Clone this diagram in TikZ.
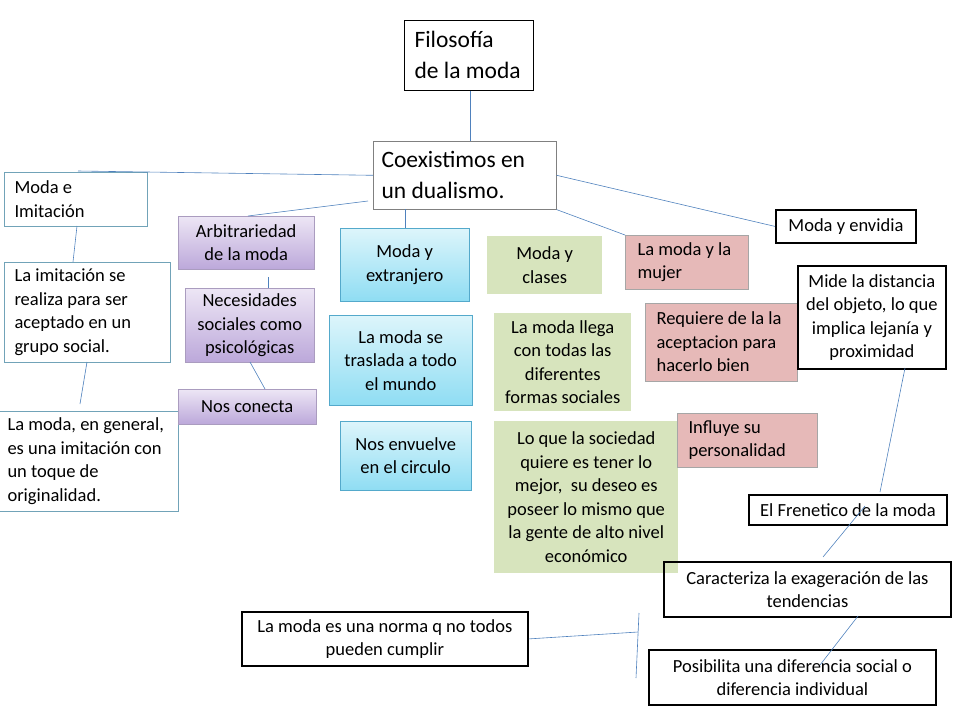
\documentclass[tikz,border=0pt]{standalone}
\usepackage{fontspec}
\setmainfont{Carlito}
\definecolor{lnc}{HTML}{4F81BD}
\definecolor{pnkc}{HTML}{E6B9B8}
\definecolor{grnc}{HTML}{D7E4BD}
\definecolor{purt}{HTML}{EDE6F5}
\definecolor{purb}{HTML}{BCA8DA}
\definecolor{cyat}{HTML}{DDF5FB}
\definecolor{cyab}{HTML}{8FDDF3}
\begin{document}
\begin{tikzpicture}[x=1pt,y=-1pt,
  ln/.style={draw=lnc,line width=0.6pt},
  bx/.style={draw=#1,align=center,inner sep=0pt},
  pur/.style={bx=purb!70!gray,top color=purt,bottom color=purb},
  cya/.style={bx=cyan!60!gray,top color=cyat,bottom color=cyab},
  grn/.style={bx=none,fill=grnc},
  pnk/.style={bx=gray!70,fill=pnkc},
  blk/.style={bx=black,line width=1.8pt},
  wht/.style={bx=cyan!40!gray},
  tx/.style={font=\fontsize{18.5}{23.5}\selectfont}]
\useasboundingbox (0,0) rectangle (960,720);
\newcommand{\bxat}[6]{\node[#1,minimum width=#4-#2,minimum height=#5-#3,anchor=north west] (#6) at (#2,#3) {};}
\bxat{bx=black,line width=0.6pt}{404}{20}{533}{90}{fil}
\node[anchor=west,align=left,font=\fontsize{23.5}{31}\selectfont] at (411,55) {Filosofía\\de la moda};
\bxat{bx=gray,line width=0.6pt}{373}{141}{556}{209}{coe}
\node[anchor=west,align=left,font=\fontsize{23.5}{31}\selectfont] at (378,175) {Coexistimos en\\un dualismo.};
\bxat{wht}{4}{172}{147}{226}{mi}
\node[tx,anchor=west,align=left] at (11,199) {Moda e\\Imitación};
\bxat{wht}{4}{262}{170}{362}{imi}
\node[tx,anchor=west,align=left] at (11,312) {La imitación se\\realiza para ser\\aceptado en un\\grupo social.};
\bxat{wht}{-1}{411}{178}{511}{gen}
\node[tx,anchor=west,align=left] at (4,461) {La moda, en general,\\es una imitación con\\un toque de\\originalidad.};
\bxat{pur}{178}{216}{314}{269}{arb}\node at (arb) [tx,align=center]{Arbitrariedad\\de la moda};
\bxat{pur}{185}{288}{314}{362}{nec}\node at (nec) [tx,align=center]{Necesidades\\sociales como\\psicológicas};
\bxat{pur}{178}{389}{316}{424}{con}\node at (con) [tx]{Nos conecta};
\bxat{cya}{340}{228}{469}{301}{ext}\node at (ext) [tx,align=center]{Moda y\\extranjero};
\bxat{cya}{329}{315}{472}{405}{tra}\node at (tra) [tx,align=center]{La moda se\\traslada a todo\\el mundo};
\bxat{cya}{340}{421}{471}{490}{env}\node at (env) [tx,align=center]{Nos envuelve\\en el circulo};
\bxat{grn}{487}{236}{602}{294}{cla}\node at (cla) [tx,align=center]{Moda y\\clases};
\bxat{grn}{494}{313}{631}{411}{lle}\node at (lle) [tx,align=center]{La moda llega\\con todas las\\diferentes\\formas sociales};
\bxat{grn}{494}{421}{678}{573}{soc}\node at (soc) [tx,align=center]{Lo que la sociedad\\quiere es tener lo\\mejor,\ \ su deseo es\\poseer lo mismo que\\la gente de alto nivel\\económico};
\bxat{pnk}{625}{235}{748}{289}{muj}\node[tx,anchor=west,align=left] at (634,262) {La moda y la\\mujer};
\bxat{pnk}{645}{303}{797}{381}{req}\node[tx,anchor=west,align=left] at (653,342) {Requiere de la la\\aceptacion para\\hacerlo bien};
\bxat{pnk}{677}{413}{817}{467}{inf}\node[tx,anchor=west,align=left] at (685,440) {Influye su\\personalidad};
\bxat{blk}{775}{209}{915}{242}{env2}\node at (env2) [tx]{Moda y envidia};
\bxat{blk}{797}{265}{945}{368}{mid}\node at (mid) [tx,align=center]{Mide la distancia\\del objeto, lo que\\implica lejanía y\\proximidad};
\bxat{blk}{748}{494}{946}{524}{fre}\node at (fre) [tx]{El Frenetico de la moda};
\bxat{blk}{663}{561}{950}{616}{car}\node at (car) [tx,align=center]{Caracteriza la exageración de las\\tendencias};
\bxat{blk}{648}{649}{935}{704}{pos}\node at (pos) [tx,align=center]{Posibilita una diferencia social o\\diferencia individual};
\bxat{blk}{241}{611}{527}{665}{nor}\node at (nor) [tx,align=center]{La moda es una norma q no todos\\pueden cumplir};
% connectors
\coordinate (v1) at (639,613); \coordinate (v2) at (636,678); \coordinate (vm) at (638,632);
\draw[ln] (fil.south -| 470,0) -- (coe.north -| 470,0);
\draw[ln] (coe.west) -- (78,171);
\draw[ln] (368,201) -- (248,216);
\draw[ln] (405,209) -- (405,228);
\draw[ln] (coe.east) -- (env2.west);
\draw[ln] (coe.south east) -- (muj.north west);
\draw[ln] (77,226) -- (73,262);
\draw[ln] (87,362) -- (80,404);
\draw[ln] (268,277) -- (268,288);
\draw[ln] (250,362) -- (265,389);
\draw[ln] (905,368) -- (880,492);
\draw[ln] (865,506) -- (823,557);
\draw[ln] (858,616) -- (820,665);
\draw[ln] (nor.east) -- (vm);
\draw[ln] (v1) -- (v2);
\end{tikzpicture}
\end{document}
